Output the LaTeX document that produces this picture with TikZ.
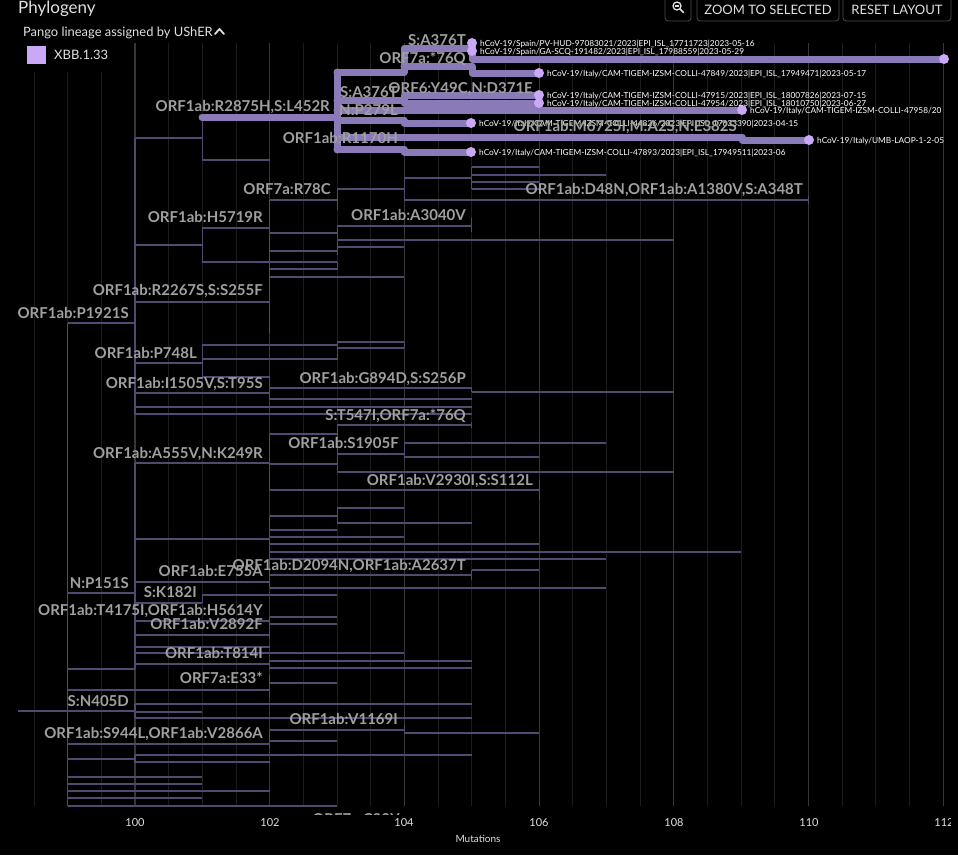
\documentclass[tikz,border=0pt]{standalone}
\usepackage{fontspec}
\setmainfont{Lato}
\definecolor{gridmajc}{HTML}{363636}
\definecolor{gridminc}{HTML}{1C1C1C}
\definecolor{treec}{HTML}{4F4A70}
\definecolor{thickc}{HTML}{8A7BB8}
\definecolor{dotc}{HTML}{C9A8F5}
\definecolor{mutc}{HTML}{A0A0A0}
\definecolor{uic}{HTML}{E0E0E0}
\definecolor{btnc}{HTML}{4A4A4A}
\tikzset{
 gridmaj/.style={draw=gridmajc, line width=1.2pt},
 gridmin/.style={draw=gridminc, line width=0.8pt},
 treeline/.style={draw=treec, line width=1.1pt},
 thickbranch/.style={draw=thickc, line width=7pt, line cap=round, line join=round},
 leafdot/.style={fill=dotc, draw=none, circle, minimum size=10pt, inner sep=0pt},
 mutlabel/.style={text=mutc, font=\bfseries\fontsize{15}{15}\selectfont, inner sep=0pt, anchor=base east},
 samplelabel/.style={text=white, font=\fontsize{8.3}{8.3}\selectfont, inner sep=0pt, anchor=base west},
 axislabel/.style={text=uic, font=\fontsize{11}{11}\selectfont, inner sep=0pt, anchor=base},
 btnbox/.style={draw=btnc, line width=0.8pt, rounded corners=3pt},
 btntext/.style={text=uic, font=\fontsize{13}{13}\selectfont, inner sep=0pt, anchor=base},
}
\begin{document}
\begin{tikzpicture}[x=1pt,y=-1pt]
\useasboundingbox (0,0) rectangle (958,855);
\fill[black] (0,0) rectangle (958,855);
% grid
\foreach \i in {-3,...,24}{
  \pgfmathsetmacro{\gx}{135+33.675*\i}
  \pgfmathsetmacro{\gt}{\gx<120 ? 72 : 43}
  \pgfmathtruncatemacro{\maj}{mod(\i+400,4)==0}
  \ifnum\maj=1 \draw[gridmaj] (\gx,\gt) -- (\gx,806); \else \draw[gridmin] (\gx,\gt) -- (\gx,806); \fi
}
% thin tree: horizontal segments y/a/b in mutation offsets
\foreach \y/\a/\b in {138/0/1, 160/1/2, 167/5/6, 175/5/7, 178/4/5, 182/5/6, 189/3/4, 189/5/6, 200/2/3, 200/4/10,
 226/3/5, 228/1/2, 233/2/3, 240/3/8, 245/0/1, 247/3/4, 251/2/3, 262/1/3, 269/2/3, 277/2/4, 302/0/2, 323/-1/0,
 342/3/4, 345/1/3, 348/3/4, 359/1/3, 363/0/1, 377/1/2, 388/2/5, 392/5/8, 393/0/2, 399/2/5, 407/0/5, 414/0/5,
 425/3/5, 434/2/3, 443/4/7, 454/3/4, 457/4/6, 463/0/2, 464/2/3, 472/3/8, 490/2/6, 508/3/4, 516/2/3, 523/3/5,
 530/2/3, 537/2/4, 539/0/2, 544/2/6, 552/2/9, 559/2/7, 570/5/6, 575/2/5, 582/0/2, 588/2/7, 593/-1/0, 595/1/3,
 603/0/1, 617/2/3, 621/0/2, 624/2/3, 635/0/2, 647/0/2, 653/0/4, 661/2/5, 664/0/2, 668/2/5, 669/-1/0, 683/2/3,
 690/-1/2, 704/0/5, 711/-1.737/0, 712/0/1, 718/0/5, 730/2/4, 733/4/6, 741/2/3, 744/-1/2, 755/0/5, 759/-1/0,
 762/0/2, 777/-1/1, 784/-1/1, 791/-1/2, 798/-1/1, 806/-1/3}{
  \draw[treeline] ({135+67.35*\a},\y) -- ({135+67.35*\b},\y);
}
\foreach \a/\ya/\yb in {0/138/415, 1/117/160, 5/167/189, 4/178/200, 3/189/210, 2/200/333, 5/218/232, 1/228/262,
 3/226/255, 3/262/270, -1/323/806, 1/345/378, 3/342/360, 4/342/348, 5/388/392, 2/377/400, 5/422/428, 3/425/472,
 4/443/457, 2/434/490, 0/463/669, 2/516/588, 3/508/523, 5/570/580, 1/595/603, 2/617/638, 2/660/670, 0/704/718,
 2/675/697, 2/730/748, 4/725/733, 6/480/500, 0/755/763, 10/196/204}{
  \draw[treeline] ({135+67.35*\a},\ya) -- ({135+67.35*\a},\yb);
}
% thick highlighted lineage
\draw[thickbranch] (202,117) -- (337,117);
\draw[thickbranch] (337,72) -- (337,150);
\draw[thickbranch] (337,72) -- (404,72) -- (404,48) -- (472,48);
\draw[thickbranch] (472,43) -- (472,59) -- (944,59);
\draw[thickbranch] (404,66) -- (472,66) -- (472,73) -- (539,73);
\draw[thickbranch] (337,100) -- (404,100);
\draw[thickbranch] (539,95) -- (404,95) -- (404,103) -- (539,103);
\draw[thickbranch] (337,110) -- (742,110);
\draw[thickbranch] (337,120) -- (404,120) -- (404,123) -- (471,123);
\draw[thickbranch] (337,137) -- (742,137) -- (742,140) -- (809,140);
\draw[thickbranch] (337,149) -- (404,149) -- (404,152) -- (471,152);
% leaf dots
\node[leafdot] (d1) at (472,43) {};
\node[leafdot] (d2) at (472,51) {};
\node[leafdot] (d3) at (944,59) {};
\node[leafdot] (d4) at (539,73) {};
\node[leafdot] (d5) at (539,95) {};
\node[leafdot] (d6) at (539,103) {};
\node[leafdot] (d7) at (742,110) {};
\node[leafdot] (d8) at (471,123) {};
\node[leafdot] (d9) at (809,140) {};
\node[leafdot] (d10) at (471,152) {};
% sample labels
\node[samplelabel] (s1) at (480,46) {hCoV-19/Spain/PV-HUD-97083021/2023|EPI\_ISL\_17711723|2023-05-16};
\node[samplelabel] (s2) at (480,54) {hCoV-19/Spain/GA-SCQ-191482/2023|EPI\_ISL\_17988559|2023-05-29};
\node[samplelabel] (s4) at (547,76) {hCoV-19/Italy/CAM-TIGEM-IZSM-COLLI-47849/2023|EPI\_ISL\_17949471|2023-05-17};
\node[samplelabel] (s5) at (547,98) {hCoV-19/Italy/CAM-TIGEM-IZSM-COLLI-47915/2023|EPI\_ISL\_18007826|2023-07-15};
\node[samplelabel] (s6) at (547,106) {hCoV-19/Italy/CAM-TIGEM-IZSM-COLLI-47954/2023|EPI\_ISL\_18010750|2023-06-27};
\node[samplelabel] (s7) at (750,113) {hCoV-19/Italy/CAM-TIGEM-IZSM-COLLI-47958/20};
\node[samplelabel] (s8) at (479,126) {hCoV-19/Italy/CAM-TIGEM-IZSM-COLLI-44826/2023|EPI\_ISL\_17633390|2023-04-15};
\node[samplelabel] (s9) at (817,143) {hCoV-19/Italy/UMB-LAOP-1-2-05};
\node[samplelabel] (s10) at (479,155) {hCoV-19/Italy/CAM-TIGEM-IZSM-COLLI-47893/2023|EPI\_ISL\_17949511|2023-06};
% mutation labels
\node[mutlabel] (m1) at (330,111.5) {ORF1ab:R2875H,S:L452R};
\node[mutlabel] (m2) at (466,45.5) {S:A376T};
\node[mutlabel] (m3) at (466,63.5) {ORF7a:*76Q};
\node[mutlabel] (m4) at (398,97.5) {S:A376T};
\node[mutlabel] (m5) at (533,93.5) {ORF6:Y49C,N:D371E};
\node[mutlabel] (m6) at (398,115.5) {N:P279L};
\node[mutlabel] (m7) at (398,143.5) {ORF1ab:R1170H};
\node[mutlabel] (m8) at (737,131.5) {ORF1ab:M6725I,M:A2S,N:E382S};
\node[mutlabel] (m9) at (331,194.5) {ORF7a:R78C};
\node[mutlabel] (m10) at (803,194.5) {ORF1ab:D48N,ORF1ab:A1380V,S:A348T};
\node[mutlabel] (m11) at (263,222.5) {ORF1ab:H5719R};
\node[mutlabel] (m12) at (466,220.5) {ORF1ab:A3040V};
\node[mutlabel] (m13) at (263,295.5) {ORF1ab:R2267S,S:S255F};
\node[mutlabel] (m14) at (129,318.5) {ORF1ab:P1921S};
\node[mutlabel] (m15) at (197,358.5) {ORF1ab:P748L};
\node[mutlabel] (m16) at (263,388.5) {ORF1ab:I1505V,S:T95S};
\node[mutlabel] (m17) at (466,383.5) {ORF1ab:G894D,S:S256P};
\node[mutlabel] (m18) at (466,420.5) {S:T547I,ORF7a:*76Q};
\node[mutlabel] (m19) at (399,448.5) {ORF1ab:S1905F};
\node[mutlabel] (m20) at (263,458.5) {ORF1ab:A555V,N:K249R};
\node[mutlabel] (m21) at (533,485.5) {ORF1ab:V2930I,S:S112L};
\node[mutlabel] (m22) at (466,570.5) {ORF1ab:D2094N,ORF1ab:A2637T};
\node[mutlabel] (m23) at (263,576.5) {ORF1ab:E755A};
\node[mutlabel] (m24) at (129,588.5) {N:P151S};
\node[mutlabel] (m25) at (197,597.5) {S:K182I};
\node[mutlabel] (m26) at (263,615.5) {ORF1ab:T4175I,ORF1ab:H5614Y};
\node[mutlabel] (m27) at (263,629.5) {ORF1ab:V2892F};
\node[mutlabel] (m28) at (263,658.5) {ORF1ab:T814I};
\node[mutlabel] (m29) at (263,683.5) {ORF7a:E33*};
\node[mutlabel] (m30) at (129,706.5) {S:N405D};
\node[mutlabel] (m31) at (398,724.5) {ORF1ab:V1169I};
\node[mutlabel] (m32) at (263,738.5) {ORF1ab:S944L,ORF1ab:V2866A};
\begin{scope}
\clip (0,0) rectangle (958,814);
\node[mutlabel] (m33) at (400,824) {ORF7a:C33Y};
\end{scope}
% axis
\node[axislabel] (t100) at (135,826) {100};
\node[axislabel] (t102) at (270,826) {102};
\node[axislabel] (t104) at (404,826) {104};
\node[axislabel] (t106) at (539,826) {106};
\node[axislabel] (t108) at (674,826) {108};
\node[axislabel] (t110) at (809,826) {110};
\begin{scope}
\clip (0,0) rectangle (950,855);
\node[axislabel] (t112) at (944,826) {112};
\end{scope}
\node[axislabel, font=\fontsize{10}{10}\selectfont] (xt) at (478,842) {Mutations};
% header
\node[text=uic, font=\fontsize{17}{17}\selectfont, inner sep=0pt, anchor=base west] (title) at (18,13.5) {Phylogeny};
\node[text=uic, font=\fontsize{12.9}{12.9}\selectfont, inner sep=0pt, anchor=base west] (legt) at (23,36.5) {Pango lineage assigned by UShER};
\draw[uic, line width=1.8pt, line cap=round, line join=round] (215,34) -- (219.5,29) -- (224,34);
\fill[dotc] (27,46) rectangle (46,64);
\node[text=uic, font=\fontsize{13}{13}\selectfont, inner sep=0pt, anchor=base west] (legx) at (54,59) {XBB.1.33};
% buttons
\draw[btnbox] (665,-4) rectangle (691,21);
\draw[uic, line width=1.3pt] (677,6) circle (4);
\draw[uic, line width=1.3pt] (675,6) -- (679,6);
\draw[uic, line width=1.6pt, line cap=round] (680,9) -- (683.5,12.5);
\draw[btnbox] (697,-4) rectangle (839,21);
\node[btntext] (b1) at (768,14) {ZOOM TO SELECTED};
\draw[btnbox] (843,-4) rectangle (951,21);
\node[btntext] (b2) at (897,14) {RESET LAYOUT};
\end{tikzpicture}
\end{document}
